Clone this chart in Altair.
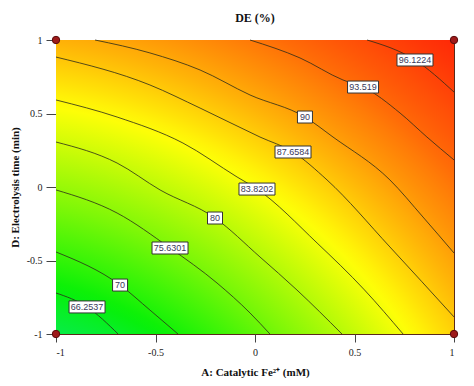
import altair as alt
import pandas as pd
import colorsys

# contour levels and their printed labels
levels = [66.2537, 70, 75.6301, 80, 83.8202, 87.6584, 90, 93.519, 96.1224]
level_text = ["66.2537", "70", "75.6301", "80", "83.8202", "87.6584", "90", "93.519", "96.1224"]

# contour paths (A coded, D coded)
c66_x = [-1.0, -0.844, -0.688]
c66_y = [-0.721, -0.816, -1.0]
c70_x = [-1.0, -0.678, -0.528, -0.387]
c70_y = [-0.442, -0.667, -0.837, -1.0]
c75_x = [-1.0, -0.693, -0.427, -0.191, -0.025, 0.075]
c75_y = [-0.020, -0.177, -0.415, -0.653, -0.857, -1.0]
c80_x = [-1.0, -0.693, -0.477, -0.201, 0.025, 0.211, 0.437]
c80_y = [0.306, 0.163, -0.020, -0.211, -0.476, -0.701, -1.0]
c83_x = [-1.0, -0.693, -0.362, -0.090, 0.010, 0.312, 0.55, 0.744]
c83_y = [0.592, 0.476, 0.299, 0.068, -0.014, -0.381, -0.70, -1.0]
c87_x = [-1.0, -0.528, -0.276, 0.025, 0.191, 0.362, 0.678, 1.0]
c87_y = [0.884, 0.694, 0.537, 0.340, 0.238, 0.048, -0.408, -0.884]
c90_x = [-0.804, -0.528, -0.276, -0.025, 0.251, 0.392, 0.678, 0.844, 1.0]
c90_y = [1.0, 0.912, 0.796, 0.626, 0.476, 0.340, 0.048, -0.204, -0.449]
c93_x = [-0.025, 0.226, 0.442, 0.543, 0.729, 0.864, 1.0]
c93_y = [1.0, 0.878, 0.728, 0.680, 0.503, 0.340, 0.184]
c96_x = [0.563, 0.804, 1.0]
c96_y = [1.0, 0.864, 0.646]

# label anchor positions
lab_x = [-0.844, -0.678, -0.427, -0.201, 0.010, 0.191, 0.251, 0.543, 0.804]
lab_y = [-0.816, -0.667, -0.415, -0.211, -0.014, 0.238, 0.476, 0.680, 0.864]

# design points (corners)
design_x = [-1, -1, 1, 1]
design_y = [-1, 1, -1, 1]

paths = [(c66_x, c66_y), (c70_x, c70_y), (c75_x, c75_y), (c80_x, c80_y), (c83_x, c83_y),
         (c87_x, c87_y), (c90_x, c90_y), (c93_x, c93_y), (c96_x, c96_y)]
rows = []
for lv, (xs, ys) in zip(levels, paths):
    for i, (a, d) in enumerate(zip(xs, ys)):
        rows.append({"level": lv, "i": i, "A": a, "D": d})
lines_df = pd.DataFrame(rows)
labels_df = pd.DataFrame({"A": lab_x, "D": lab_y, "label": level_text,
                          "n": [len(t) for t in level_text]})
design_df = pd.DataFrame({"A": design_x, "D": design_y})
bg_df = pd.DataFrame({"A": [-1], "A2": [1], "D": [-1], "D2": [1]})

# colour ramp for the background (radial, centred below-left of the plot)
r_pts = [280, 308, 340, 375, 432, 483, 529, 578, 610, 666, 718, 763, 800]
v_pts = [61.5, 63, 66.25, 70, 75.63, 80, 83.82, 87.66, 90, 93.52, 96.12, 98, 99.5]
def val_color(v):
    t = (v - 63) / (98 - 63)
    h = max(0.0, 137 - t * 129) / 360.0
    bright = 0.93 + 0.07 * min(1.0, max(0.0, t / 0.6))
    r, g, b = colorsys.hsv_to_rgb(h, 0.97, bright)
    return "#%02x%02x%02x" % (int(r * 255), int(g * 255), int(b * 255))
R = 800.0
stops = []
for k in range(len(r_pts) - 1):
    for s in range(4):
        f = s / 4
        r = r_pts[k] + f * (r_pts[k + 1] - r_pts[k])
        v = v_pts[k] + f * (v_pts[k + 1] - v_pts[k])
        stops.append(alt.GradientStop(offset=r / R, color=val_color(v)))
stops.append(alt.GradientStop(offset=1.0, color=val_color(v_pts[-1])))

W, H = 398, 294
unit = max(W, H)
cx = -86 / unit
cy = (590 + (unit - H) / 2) / unit
grad = alt.RadialGradient(gradient="radial", stops=stops, x1=cx, y1=cy, r1=0,
                          x2=cx, y2=cy, r2=R / unit)

serif = "Liberation Serif"
xscale = alt.Scale(domain=[-1, 1], nice=False, zero=False)
yscale = alt.Scale(domain=[-1, 1], nice=False, zero=False)
xaxis = alt.Axis(values=[-1, -0.5, 0, 0.5, 1], labelExpr="toString(datum.value)",
                 title="A: Catalytic Fe²⁺ (mM)", grid=False, domain=False,
                 tickSize=8, tickColor="#444", labelFont=serif, labelFontSize=10,
                 labelColor="#222", labelPadding=5, titleFont=serif, titleFontSize=11,
                 titleFontWeight="bold", titleColor="#111", titlePadding=9)
yaxis = alt.Axis(values=[-1, -0.5, 0, 0.5, 1], labelExpr="toString(datum.value)",
                 title="D: Electrolysis time (min)", grid=False, domain=False,
                 tickSize=10, tickColor="#444", labelFont=serif, labelFontSize=10,
                 labelColor="#222", labelPadding=4, titleFont=serif, titleFontSize=11,
                 titleFontWeight="bold", titleColor="#111", titlePadding=6)
X = alt.X("A:Q", scale=xscale, axis=xaxis)
Y = alt.Y("D:Q", scale=yscale, axis=yaxis)

bg = alt.Chart(bg_df).mark_rect(color=grad).encode(x=X, x2="A2:Q", y=Y, y2="D2:Q")

lines = alt.Chart(lines_df).mark_line(color="#2a2a1a", strokeWidth=1, opacity=0.8,
                                      interpolate="monotone").encode(
    x=X, y=Y, detail="level:N", order="i:Q")

box_layers = []
for n, w in [(2, 15), (6, 31), (7, 36)]:
    box_layers.append(
        alt.Chart(labels_df).transform_filter(f"datum.n == {n}")
        .mark_rect(width=w, height=12, fill="white", stroke="#333", strokeWidth=1)
        .encode(x=X, y=Y))

texts = alt.Chart(labels_df).mark_text(font="Liberation Sans", fontSize=9,
                                       color="#3a3a5a", baseline="middle").encode(
    x=X, y=Y, text="label:N")

pts = alt.Chart(design_df).mark_circle(size=55, color="#9e1a1a", opacity=1,
                                       stroke="#5a0c0c", strokeWidth=1, clip=False).encode(x=X, y=Y)

chart = alt.layer(bg, lines, *box_layers, texts, pts).properties(
    width=W, height=H,
    title=alt.TitleParams("DE (%)", font=serif, fontSize=12, fontWeight="bold",
                          anchor="middle", offset=9, color="#111"),
    padding={"left": 48, "top": 32, "right": 12, "bottom": 44},
    autosize=alt.AutoSizeParams(type="none"),
).configure_view(stroke="#5a2a1a", strokeWidth=1)

chart.save("out.html", embed_options={"renderer": "svg", "actions": False})
